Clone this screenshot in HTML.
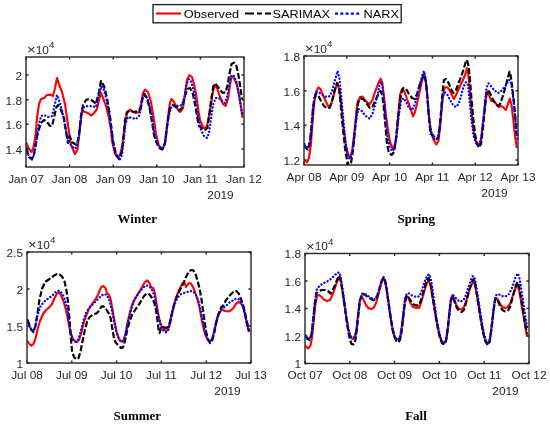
<!DOCTYPE html>
<html><head><meta charset="utf-8"><title>Observed vs SARIMAX vs NARX</title>
<style>html,body{margin:0;padding:0;background:#fff}svg{display:block}
text{font-family:"Liberation Sans",Arial,Helvetica,sans-serif;fill:#262626}
.t{font-family:"Liberation Serif","Times New Roman",serif;font-weight:bold;font-size:13px;fill:#000}
.r{fill:none;stroke:#f00;stroke-width:2.1;stroke-linejoin:round;stroke-linecap:round}
.k{fill:none;stroke:#000;stroke-width:2.2;stroke-dasharray:6 2.2;stroke-linejoin:round}
.b{fill:none;stroke:#00f;stroke-width:2.3;stroke-dasharray:0.1 3.4;stroke-linecap:round;stroke-linejoin:round}
.a{fill:none;stroke:#262626;stroke-width:1.4}
</style></head><body>
<svg width="550" height="425" viewBox="0 0 550 425">
<rect width="550" height="425" fill="#fff"/>
<clipPath id="c0"><rect x="26" y="57" width="218" height="110"/></clipPath>
<g clip-path="url(#c0)">
<path class="r" d="M26.4,143.0 L29.0,149.0 L31.6,152.0 L33.6,147.0 L35.6,135.0 L37.0,118.0 L39.0,104.0 L41.0,99.0 L44.0,98.0 L47.0,95.0 L50.0,94.6 L53.0,96.0 L55.0,88.0 L57.0,78.0 L59.6,86.0 L62.0,92.0 L65.0,104.0 L67.0,118.0 L69.0,132.0 L71.0,145.0 L75.0,154.0 L77.6,149.0 L80.0,128.0 L82.0,111.0 L85.0,112.0 L88.0,113.0 L91.4,115.6 L94.0,113.0 L97.0,109.0 L99.0,100.0 L101.0,93.0 L103.0,98.0 L106.0,106.0 L109.0,118.0 L111.0,130.0 L112.0,141.0 L115.0,154.0 L118.0,157.0 L120.0,155.0 L122.4,145.0 L123.5,135.0 L125.0,124.0 L127.0,113.0 L130.0,109.6 L133.0,112.0 L136.0,113.0 L139.0,112.0 L141.0,104.0 L143.0,93.0 L145.0,89.6 L148.0,92.0 L151.0,102.0 L154.0,120.0 L156.0,134.0 L159.0,146.0 L162.0,149.4 L164.6,145.0 L166.6,131.0 L168.6,112.0 L170.0,103.0 L171.4,99.0 L174.0,102.0 L177.0,108.0 L180.0,112.0 L183.0,108.0 L185.0,94.0 L187.0,80.0 L189.4,75.0 L192.0,77.0 L194.0,84.0 L196.0,94.0 L198.0,108.0 L200.0,120.0 L203.0,127.0 L205.4,129.0 L207.4,124.0 L210.0,111.0 L212.4,95.0 L214.4,85.0 L217.0,88.0 L220.0,97.0 L223.0,104.0 L225.6,106.0 L228.0,99.0 L230.0,85.0 L231.6,76.0 L234.0,78.0 L237.0,85.0 L239.0,95.0 L241.0,107.0 L242.4,117.0"/>
<path class="k" d="M26.4,149.0 L29.0,157.0 L32.0,159.0 L34.0,154.0 L36.0,143.0 L38.0,132.0 L41.0,123.0 L44.0,120.0 L47.0,122.0 L50.0,126.0 L52.0,126.0 L54.0,118.0 L56.0,108.0 L58.0,105.0 L61.0,110.0 L64.0,118.0 L66.0,131.0 L68.0,143.0 L69.6,136.0 L72.0,142.0 L75.0,144.0 L77.0,145.0 L79.0,135.0 L81.0,116.0 L83.0,105.0 L86.0,100.0 L89.0,99.0 L93.0,101.0 L96.0,104.0 L99.0,92.0 L101.0,81.0 L104.0,86.0 L107.0,98.0 L110.0,116.0 L113.0,141.0 L116.0,155.0 L119.0,159.0 L121.6,153.0 L123.4,140.0 L125.0,120.0 L127.0,112.0 L130.0,110.4 L134.0,112.0 L138.0,111.0 L140.6,109.0 L142.6,98.0 L144.6,94.0 L147.0,98.0 L150.0,110.0 L152.0,122.0 L154.0,135.0 L156.6,143.0 L159.4,148.0 L162.6,149.4 L165.0,143.0 L167.0,126.0 L169.0,113.0 L170.0,108.0 L173.0,105.0 L176.0,107.0 L179.0,110.4 L182.0,108.0 L185.0,96.0 L187.4,89.0 L190.0,88.0 L192.6,93.0 L195.0,104.0 L197.0,116.0 L199.0,126.0 L202.0,128.4 L205.0,130.0 L207.4,128.0 L209.4,114.0 L211.4,98.0 L213.4,86.0 L215.4,83.6 L218.0,87.0 L221.0,91.0 L223.0,93.0 L225.6,92.0 L227.6,85.0 L229.6,73.0 L231.6,64.0 L234.0,62.6 L236.4,66.0 L238.4,75.0 L240.0,85.0 L242.0,99.0"/>
<path class="b" d="M26.4,148.0 L29.0,157.0 L31.6,160.0 L34.0,155.0 L36.0,143.0 L38.0,128.0 L41.0,116.0 L44.0,115.0 L48.0,117.0 L52.0,116.0 L54.0,108.0 L57.0,95.0 L59.0,100.0 L62.0,110.0 L65.0,126.0 L68.0,140.0 L71.0,145.0 L74.0,148.6 L76.4,147.4 L79.0,135.0 L81.0,116.0 L84.0,107.0 L88.0,106.0 L92.0,106.4 L96.0,107.0 L99.0,94.0 L101.6,86.0 L104.0,90.0 L107.0,102.0 L110.0,118.0 L113.0,141.0 L116.0,154.0 L119.6,160.0 L122.0,155.0 L123.5,142.0 L125.4,124.0 L128.0,117.0 L132.0,118.0 L136.0,119.0 L139.0,116.0 L141.0,108.0 L143.0,97.0 L145.0,95.0 L148.0,100.0 L151.0,112.0 L153.0,125.0 L155.0,137.0 L158.0,145.0 L162.0,149.0 L165.0,143.0 L167.0,128.0 L168.0,120.0 L170.6,108.0 L174.0,105.6 L178.0,106.0 L182.0,105.0 L184.6,96.0 L186.6,84.0 L189.0,79.0 L191.4,82.0 L194.0,92.0 L196.0,104.0 L198.0,117.0 L201.0,130.0 L204.0,136.0 L207.0,138.0 L209.0,133.0 L211.0,119.0 L213.0,105.0 L215.6,98.0 L219.0,98.0 L222.0,101.0 L225.0,103.0 L227.6,95.0 L229.6,83.0 L231.6,75.0 L234.0,76.0 L236.4,82.0 L239.0,95.0 L241.0,107.0 L242.4,115.0"/>
</g>
<rect class="a" x="26" y="57" width="218" height="110"/>
<path class="a" d="M26.0,167v-2.5M26.0,57v2.5M69.6,167v-2.5M69.6,57v2.5M113.2,167v-2.5M113.2,57v2.5M156.8,167v-2.5M156.8,57v2.5M200.4,167v-2.5M200.4,57v2.5M244.0,167v-2.5M244.0,57v2.5M26,75h2.5M244,75h-2.5M26,99.7h2.5M244,99.7h-2.5M26,124.3h2.5M244,124.3h-2.5M26,149h2.5M244,149h-2.5"/>
<text transform="translate(26.0 183) scale(1.1 1)" font-size="10.8" text-anchor="middle">Jan 07</text>
<text transform="translate(69.6 183) scale(1.1 1)" font-size="10.8" text-anchor="middle">Jan 08</text>
<text transform="translate(113.2 183) scale(1.1 1)" font-size="10.8" text-anchor="middle">Jan 09</text>
<text transform="translate(156.8 183) scale(1.1 1)" font-size="10.8" text-anchor="middle">Jan 10</text>
<text transform="translate(200.4 183) scale(1.1 1)" font-size="10.8" text-anchor="middle">Jan 11</text>
<text transform="translate(244.0 183) scale(1.1 1)" font-size="10.8" text-anchor="middle">Jan 12</text>
<text transform="translate(233.7 198.7) scale(1.1 1)" font-size="10.8" text-anchor="end">2019</text>
<text transform="translate(22.1 79.8) scale(1.1 1)" font-size="10.8" text-anchor="end">2</text>
<text transform="translate(22.1 104.5) scale(1.1 1)" font-size="10.8" text-anchor="end">1.8</text>
<text transform="translate(22.1 129.1) scale(1.1 1)" font-size="10.8" text-anchor="end">1.6</text>
<text transform="translate(22.1 153.8) scale(1.1 1)" font-size="10.8" text-anchor="end">1.4</text>
<text transform="translate(27 53.5) scale(1.1 1)" font-size="10.8" text-anchor="start"><tspan font-size="13.5" dy="0.5">×</tspan><tspan dy="-0.5">10</tspan><tspan dy="-5.5" font-size="9">4</tspan></text>
<text class="t" x="137.3" y="223" text-anchor="middle">Winter</text>
<clipPath id="c1"><rect x="304" y="56" width="214" height="109"/></clipPath>
<g clip-path="url(#c1)">
<path class="r" d="M304.4,160.0 L307.0,162.4 L309.0,158.0 L311.0,144.0 L312.4,124.0 L314.4,101.0 L316.4,91.0 L318.4,87.4 L320.4,89.0 L323.0,95.0 L326.0,102.0 L329.0,107.4 L331.0,105.0 L333.0,98.0 L335.6,88.0 L337.6,83.0 L339.6,91.0 L341.6,107.0 L343.6,128.0 L345.6,144.0 L348.0,154.0 L350.0,157.0 L352.0,152.0 L354.0,136.0 L356.0,116.0 L357.6,102.0 L360.0,97.0 L362.4,96.6 L365.0,100.0 L367.6,103.0 L370.0,104.0 L372.4,100.0 L375.0,92.0 L378.0,84.0 L380.6,78.6 L382.4,83.0 L384.0,97.0 L386.0,116.0 L388.0,130.0 L390.0,142.0 L392.4,148.0 L394.4,146.0 L396.4,136.0 L398.2,115.0 L400.0,95.0 L402.0,89.0 L404.6,92.0 L407.0,99.0 L410.0,107.0 L413.0,116.4 L415.0,112.0 L417.4,102.0 L420.0,90.0 L422.6,78.0 L424.0,73.0 L425.6,80.0 L427.4,98.0 L429.0,118.0 L431.0,132.0 L433.6,140.0 L436.4,144.4 L438.4,141.0 L440.0,128.0 L441.6,110.0 L443.0,96.0 L444.4,88.0 L446.6,87.0 L449.0,89.0 L451.4,94.0 L454.0,99.0 L457.0,93.0 L460.0,86.0 L463.0,80.0 L465.4,74.0 L467.0,68.0 L468.2,74.0 L469.4,86.0 L471.0,104.0 L472.5,122.0 L474.0,134.0 L476.4,142.4 L479.0,145.0 L481.0,140.0 L483.0,122.0 L484.8,108.0 L486.4,94.0 L488.0,91.0 L489.7,97.0 L491.4,101.0 L493.8,101.0 L496.3,104.0 L498.8,107.0 L501.2,106.0 L503.7,107.7 L505.9,110.0 L507.8,104.4 L509.8,98.7 L511.5,105.0 L513.1,118.0 L515.0,136.0 L516.6,147.0"/>
<path class="k" d="M304.4,145.0 L306.0,148.0 L308.0,149.6 L310.0,142.0 L311.6,126.0 L313.2,106.0 L314.5,98.0 L316.0,94.0 L318.4,96.0 L321.0,101.0 L324.0,106.0 L327.0,108.0 L329.6,108.0 L332.0,101.0 L334.4,91.0 L337.0,83.0 L339.0,89.0 L340.6,103.0 L342.0,120.0 L343.5,133.0 L345.0,148.0 L347.0,160.0 L349.0,166.0 L351.0,163.0 L353.0,150.0 L355.0,130.0 L357.0,110.0 L358.4,102.0 L360.6,98.6 L363.6,99.4 L367.0,104.0 L370.0,108.0 L372.4,107.0 L375.0,101.0 L378.0,95.0 L380.4,91.0 L382.4,95.0 L384.0,110.0 L385.5,126.0 L387.0,144.0 L389.0,153.0 L391.6,155.0 L394.0,152.0 L396.0,140.0 L398.0,118.0 L399.5,106.0 L401.0,94.0 L403.4,88.0 L406.0,89.0 L409.0,94.0 L412.0,98.0 L414.6,99.0 L417.0,94.0 L419.4,86.0 L422.0,79.0 L424.0,75.0 L426.0,82.0 L427.6,100.0 L429.2,120.0 L430.6,134.0 L433.0,135.0 L435.6,139.0 L438.0,138.0 L439.6,128.0 L441.2,110.0 L442.5,92.0 L444.0,80.0 L446.0,79.0 L448.6,83.0 L451.0,89.0 L453.4,93.0 L456.0,90.0 L458.6,83.0 L461.0,77.0 L463.4,70.0 L465.4,63.0 L467.0,60.0 L468.6,66.0 L470.0,80.0 L471.6,100.0 L473.2,118.0 L475.0,134.0 L477.0,144.0 L479.0,147.6 L481.0,144.0 L483.0,128.0 L485.0,106.0 L486.7,92.0 L488.4,90.4 L490.5,94.0 L493.0,99.5 L495.5,103.6 L498.0,106.0 L499.9,104.4 L502.0,98.7 L504.5,90.4 L506.5,83.0 L508.2,76.4 L509.5,71.5 L510.8,76.4 L512.1,86.3 L513.6,99.5 L515.2,116.0 L516.5,134.0"/>
<path class="b" d="M304.4,144.0 L306.0,147.0 L308.0,148.0 L310.0,141.0 L311.6,124.0 L313.0,108.0 L314.5,98.0 L316.0,92.0 L318.4,92.0 L321.0,94.0 L324.0,96.0 L327.0,97.0 L330.0,96.0 L332.4,90.0 L335.0,80.0 L337.6,71.0 L339.6,79.0 L341.2,95.0 L342.6,112.0 L344.4,130.0 L346.4,148.0 L348.0,157.0 L350.0,159.0 L352.4,152.0 L354.4,134.0 L356.4,118.0 L358.4,109.0 L361.0,110.0 L364.0,114.0 L367.0,117.0 L369.6,118.6 L372.0,115.0 L374.4,107.0 L377.0,97.0 L380.0,83.0 L381.6,82.0 L383.2,92.0 L384.6,106.0 L385.8,122.0 L387.6,138.0 L390.0,148.0 L392.4,151.0 L394.8,148.0 L396.8,134.0 L398.8,116.0 L401.0,101.0 L403.4,98.0 L406.0,102.0 L409.0,108.0 L412.0,110.0 L414.6,105.0 L417.0,96.0 L419.4,86.0 L422.0,76.0 L424.0,71.0 L425.6,78.0 L427.4,96.0 L429.0,116.0 L430.5,128.0 L432.0,135.0 L435.0,140.0 L437.6,139.0 L439.6,128.0 L441.2,112.0 L442.6,98.0 L444.6,92.0 L447.0,94.0 L450.0,100.0 L453.0,105.0 L456.0,107.0 L458.6,104.0 L461.0,96.0 L463.4,87.0 L466.0,82.0 L468.0,85.0 L469.4,98.0 L471.0,116.0 L472.5,128.0 L474.0,138.0 L476.4,144.0 L479.0,145.0 L481.0,139.0 L483.0,122.0 L485.0,103.0 L486.4,88.0 L488.4,83.3 L490.5,85.5 L493.0,88.8 L495.5,91.2 L498.0,93.0 L500.4,92.0 L502.9,88.8 L505.4,86.3 L507.5,82.2 L509.2,79.7 L510.8,82.2 L512.4,91.2 L514.1,106.0 L515.7,122.0 L517.6,142.0"/>
</g>
<rect class="a" x="304" y="56" width="214" height="109"/>
<path class="a" d="M304.0,165v-2.5M304.0,56v2.5M346.8,165v-2.5M346.8,56v2.5M389.6,165v-2.5M389.6,56v2.5M432.4,165v-2.5M432.4,56v2.5M475.2,165v-2.5M475.2,56v2.5M518.0,165v-2.5M518.0,56v2.5M304,56h2.5M518,56h-2.5M304,90.7h2.5M518,90.7h-2.5M304,125.3h2.5M518,125.3h-2.5M304,160h2.5M518,160h-2.5"/>
<text transform="translate(304.0 181) scale(1.1 1)" font-size="10.8" text-anchor="middle">Apr 08</text>
<text transform="translate(346.8 181) scale(1.1 1)" font-size="10.8" text-anchor="middle">Apr 09</text>
<text transform="translate(389.6 181) scale(1.1 1)" font-size="10.8" text-anchor="middle">Apr 10</text>
<text transform="translate(432.4 181) scale(1.1 1)" font-size="10.8" text-anchor="middle">Apr 11</text>
<text transform="translate(475.2 181) scale(1.1 1)" font-size="10.8" text-anchor="middle">Apr 12</text>
<text transform="translate(518.0 181) scale(1.1 1)" font-size="10.8" text-anchor="middle">Apr 13</text>
<text transform="translate(507.7 196.7) scale(1.1 1)" font-size="10.8" text-anchor="end">2019</text>
<text transform="translate(300.1 60.8) scale(1.1 1)" font-size="10.8" text-anchor="end">1.8</text>
<text transform="translate(300.1 95.5) scale(1.1 1)" font-size="10.8" text-anchor="end">1.6</text>
<text transform="translate(300.1 130.1) scale(1.1 1)" font-size="10.8" text-anchor="end">1.4</text>
<text transform="translate(300.1 164.8) scale(1.1 1)" font-size="10.8" text-anchor="end">1.2</text>
<text transform="translate(305 52.5) scale(1.1 1)" font-size="10.8" text-anchor="start"><tspan font-size="13.5" dy="0.5">×</tspan><tspan dy="-0.5">10</tspan><tspan dy="-5.5" font-size="9">4</tspan></text>
<text class="t" x="416.3" y="223" text-anchor="middle">Spring</text>
<clipPath id="c2"><rect x="27" y="252" width="224" height="111"/></clipPath>
<g clip-path="url(#c2)">
<path class="r" d="M27.4,341.0 L29.4,344.0 L31.4,345.6 L33.4,344.0 L35.4,339.0 L37.4,330.0 L40.0,321.0 L43.0,314.0 L46.0,310.0 L49.0,307.6 L52.0,304.0 L54.6,298.0 L57.0,293.6 L59.0,292.4 L61.0,295.0 L63.4,301.0 L66.0,310.0 L68.0,320.0 L70.0,330.0 L72.0,337.0 L74.6,341.0 L77.0,342.0 L79.0,340.0 L81.0,334.0 L83.4,324.0 L86.0,316.0 L89.0,309.0 L92.0,304.0 L95.0,300.0 L97.4,296.0 L99.4,291.0 L101.4,287.0 L103.4,286.0 L105.4,288.0 L107.0,293.0 L109.0,295.0 L110.6,299.0 L112.6,310.0 L114.6,322.0 L116.6,332.0 L119.0,339.0 L121.4,341.6 L123.4,341.0 L125.4,334.0 L127.4,323.0 L130.0,312.0 L133.0,303.0 L136.0,297.0 L139.0,292.0 L142.0,287.0 L145.0,282.0 L147.4,280.4 L149.4,283.0 L151.4,287.6 L153.4,288.0 L155.0,294.0 L156.6,304.0 L158.2,314.0 L160.0,322.0 L162.0,327.0 L164.4,330.0 L166.6,331.0 L168.6,328.0 L170.6,320.0 L172.6,310.0 L175.0,301.0 L177.4,294.0 L180.0,288.0 L182.6,283.0 L184.6,283.0 L186.0,287.0 L187.4,285.0 L189.0,283.0 L191.0,283.6 L193.0,287.0 L195.0,292.0 L197.4,299.0 L199.4,307.0 L201.4,318.0 L203.4,328.0 L205.4,335.0 L207.4,339.0 L210.0,341.5 L212.0,339.0 L214.0,332.0 L216.0,322.0 L218.0,315.0 L220.6,311.0 L222.3,309.5 L225.1,311.0 L228.0,311.4 L230.8,310.5 L233.6,307.7 L236.0,303.9 L238.3,302.0 L240.6,303.0 L243.0,306.7 L244.9,313.3 L246.8,322.7 L248.7,331.2"/>
<path class="k" d="M27.4,320.0 L29.4,325.0 L31.4,330.0 L33.4,332.0 L35.4,326.0 L37.4,314.0 L39.4,300.0 L42.0,289.0 L45.0,282.0 L48.0,280.0 L51.0,278.0 L54.0,275.6 L57.0,274.0 L59.4,274.4 L62.0,276.4 L64.4,281.0 L66.4,290.0 L68.0,302.0 L69.4,318.0 L70.6,335.0 L72.0,351.0 L74.0,357.0 L76.6,359.4 L78.6,358.0 L80.6,351.0 L82.6,341.0 L84.6,331.0 L87.0,322.0 L89.0,318.0 L91.0,316.0 L94.0,314.4 L97.0,313.0 L99.4,310.0 L101.6,306.4 L103.6,306.4 L106.0,309.0 L108.6,313.0 L110.6,318.0 L112.2,328.0 L113.8,337.0 L115.4,342.0 L118.0,345.0 L121.0,348.0 L123.0,347.4 L125.0,341.0 L127.0,331.0 L129.4,322.0 L132.0,315.0 L135.0,310.0 L138.0,306.0 L141.0,301.0 L144.0,296.0 L146.6,293.6 L149.0,294.0 L151.4,297.0 L154.0,302.0 L156.0,310.0 L157.4,320.0 L158.6,330.0 L159.6,333.0 L161.0,328.0 L163.4,327.0 L166.0,328.0 L168.0,327.0 L170.0,322.0 L172.0,313.0 L174.6,303.0 L177.0,296.0 L180.0,290.0 L183.0,284.0 L186.0,277.0 L188.6,272.0 L191.0,270.0 L193.4,270.4 L195.4,274.0 L197.4,280.0 L199.4,288.0 L201.4,299.0 L203.0,310.0 L204.6,322.0 L206.2,332.0 L208.0,340.0 L210.0,343.0 L212.0,341.0 L214.0,334.0 L216.0,324.0 L218.6,314.0 L221.4,307.0 L223.2,305.8 L226.1,300.1 L228.9,296.4 L231.7,293.5 L234.2,291.1 L236.4,291.1 L238.7,293.5 L241.1,299.2 L243.6,306.7 L245.5,315.2 L247.4,323.7 L249.2,331.2"/>
<path class="b" d="M27.4,320.0 L29.4,326.0 L31.4,330.0 L33.4,331.0 L35.4,326.0 L37.4,316.0 L40.0,307.0 L43.0,303.0 L46.0,300.0 L49.0,298.0 L52.0,296.0 L54.6,293.0 L57.0,291.0 L60.0,291.0 L62.6,294.0 L65.0,300.0 L67.0,308.0 L69.0,320.0 L70.6,332.0 L73.0,340.0 L76.0,342.0 L78.6,339.0 L80.6,332.0 L83.0,322.0 L86.0,313.0 L89.0,308.0 L92.0,305.0 L95.0,302.0 L98.0,299.0 L101.0,296.0 L104.0,294.0 L106.6,295.0 L109.0,299.0 L111.0,306.0 L113.0,316.0 L115.0,326.0 L117.0,334.0 L119.4,340.0 L122.0,342.0 L124.4,339.0 L126.4,330.0 L128.6,320.0 L131.0,310.0 L133.0,302.0 L136.0,297.0 L139.0,293.0 L142.0,289.0 L145.0,286.0 L147.4,285.6 L150.0,287.0 L152.6,291.0 L154.6,297.0 L156.6,306.0 L158.6,317.0 L160.6,325.0 L163.0,330.0 L165.6,332.4 L168.0,331.0 L170.0,324.0 L172.0,314.0 L174.6,304.0 L177.4,298.0 L180.6,294.4 L184.0,293.0 L187.4,292.0 L190.6,291.0 L193.4,291.6 L196.0,295.0 L198.4,301.0 L200.6,310.0 L202.6,320.0 L204.6,330.0 L206.6,337.0 L209.0,341.0 L211.4,341.0 L213.4,335.0 L215.4,326.0 L218.0,316.0 L221.0,309.0 L223.2,308.0 L226.1,305.8 L228.9,303.0 L231.7,301.1 L234.5,299.2 L237.4,298.6 L240.2,300.1 L242.5,304.8 L244.3,312.4 L246.2,320.8 L248.3,330.3"/>
</g>
<rect class="a" x="27" y="252" width="224" height="111"/>
<path class="a" d="M27.0,363v-2.5M27.0,252v2.5M71.8,363v-2.5M71.8,252v2.5M116.6,363v-2.5M116.6,252v2.5M161.4,363v-2.5M161.4,252v2.5M206.2,363v-2.5M206.2,252v2.5M251.0,363v-2.5M251.0,252v2.5M27,252h2.5M251,252h-2.5M27,289h2.5M251,289h-2.5M27,326h2.5M251,326h-2.5M27,363h2.5M251,363h-2.5"/>
<text transform="translate(27.0 379) scale(1.1 1)" font-size="10.8" text-anchor="middle">Jul 08</text>
<text transform="translate(71.8 379) scale(1.1 1)" font-size="10.8" text-anchor="middle">Jul 09</text>
<text transform="translate(116.6 379) scale(1.1 1)" font-size="10.8" text-anchor="middle">Jul 10</text>
<text transform="translate(161.4 379) scale(1.1 1)" font-size="10.8" text-anchor="middle">Jul 11</text>
<text transform="translate(206.2 379) scale(1.1 1)" font-size="10.8" text-anchor="middle">Jul 12</text>
<text transform="translate(251.0 379) scale(1.1 1)" font-size="10.8" text-anchor="middle">Jul 13</text>
<text transform="translate(240.7 394.7) scale(1.1 1)" font-size="10.8" text-anchor="end">2019</text>
<text transform="translate(23.1 256.8) scale(1.1 1)" font-size="10.8" text-anchor="end">2.5</text>
<text transform="translate(23.1 293.8) scale(1.1 1)" font-size="10.8" text-anchor="end">2</text>
<text transform="translate(23.1 330.8) scale(1.1 1)" font-size="10.8" text-anchor="end">1.5</text>
<text transform="translate(23.1 367.8) scale(1.1 1)" font-size="10.8" text-anchor="end">1</text>
<text transform="translate(28 248.5) scale(1.1 1)" font-size="10.8" text-anchor="start"><tspan font-size="13.5" dy="0.5">×</tspan><tspan dy="-0.5">10</tspan><tspan dy="-5.5" font-size="9">4</tspan></text>
<text class="t" x="137.3" y="419.6" text-anchor="middle">Summer</text>
<clipPath id="c3"><rect x="305" y="253.5" width="224" height="110.0"/></clipPath>
<g clip-path="url(#c3)">
<path class="r" d="M305.4,346.0 L308.0,348.4 L310.4,346.0 L312.0,338.0 L313.6,322.0 L315.2,306.0 L317.0,296.0 L319.0,295.0 L321.6,297.0 L324.0,299.6 L327.0,301.0 L330.0,300.0 L332.4,295.0 L335.0,288.0 L337.4,281.0 L339.4,277.0 L341.0,282.0 L342.6,292.0 L344.4,304.0 L346.4,318.0 L348.4,330.0 L350.4,337.0 L352.4,339.0 L354.4,338.0 L356.4,330.0 L358.0,316.0 L359.6,302.0 L361.6,296.0 L363.6,300.0 L366.0,305.0 L368.4,308.0 L371.0,309.0 L373.6,308.0 L376.0,303.0 L378.0,296.0 L380.0,288.0 L382.0,281.0 L383.6,278.4 L385.2,282.0 L386.8,290.0 L388.4,302.0 L390.4,316.0 L392.4,328.0 L394.4,336.0 L396.4,339.0 L398.4,339.6 L400.4,336.0 L402.0,326.0 L403.6,312.0 L405.2,300.0 L406.6,296.0 L408.4,298.0 L410.4,303.0 L413.0,307.0 L416.0,307.6 L419.0,308.0 L421.0,303.0 L423.0,296.0 L425.0,289.0 L427.0,283.0 L428.6,280.0 L430.4,285.0 L432.0,294.0 L434.0,306.0 L436.0,318.0 L438.0,329.0 L440.0,337.0 L442.0,342.0 L444.0,343.6 L446.0,340.0 L447.6,330.0 L449.2,314.0 L450.8,300.0 L452.4,295.0 L454.4,300.0 L456.4,305.0 L459.0,309.0 L461.6,309.6 L464.0,307.0 L466.4,300.0 L468.4,293.0 L470.4,287.0 L472.4,283.0 L474.0,282.0 L475.6,288.0 L477.6,300.0 L479.6,312.0 L481.6,324.0 L483.6,334.0 L485.6,341.0 L487.6,343.6 L489.6,341.0 L491.2,330.0 L492.8,316.0 L494.4,304.0 L495.6,298.0 L497.6,299.0 L500.0,304.0 L502.4,307.0 L505.0,308.0 L507.6,307.0 L510.0,304.0 L512.0,298.0 L514.0,292.0 L516.0,287.0 L517.6,285.0 L519.2,291.0 L521.0,301.0 L523.0,313.0 L525.0,325.0 L527.0,336.0"/>
<path class="k" d="M305.4,336.0 L307.6,339.0 L309.6,340.0 L311.6,334.0 L313.2,320.0 L314.8,304.0 L316.6,293.0 L319.0,291.0 L322.0,290.0 L325.0,290.0 L328.0,291.0 L330.4,293.6 L332.4,291.0 L335.0,285.0 L337.4,279.0 L339.2,275.6 L341.0,281.0 L342.6,292.0 L344.4,304.0 L346.4,319.0 L348.4,332.0 L350.0,340.0 L351.6,344.0 L353.6,344.4 L355.2,341.0 L356.8,330.0 L358.4,314.0 L360.0,300.0 L362.0,294.0 L364.4,294.4 L367.0,296.4 L370.0,298.4 L373.0,300.0 L375.6,300.0 L377.6,295.0 L379.6,288.0 L381.6,281.0 L383.6,277.6 L385.2,281.0 L386.8,290.0 L388.4,302.0 L390.4,316.0 L392.4,329.0 L394.4,337.0 L396.4,341.0 L398.4,342.4 L400.0,340.0 L401.6,332.0 L403.2,318.0 L404.8,304.0 L406.4,296.0 L408.4,297.0 L411.0,301.0 L413.6,304.4 L416.4,305.6 L419.0,305.0 L421.0,300.0 L423.0,293.0 L425.0,286.0 L427.0,280.0 L428.6,278.0 L430.4,283.0 L432.0,293.0 L434.0,305.0 L436.0,318.0 L438.0,329.0 L440.0,338.0 L442.0,343.0 L444.0,344.4 L446.0,341.0 L447.6,330.0 L449.2,315.0 L450.8,301.0 L452.4,296.0 L454.4,301.0 L456.4,307.0 L459.0,311.0 L461.6,312.0 L464.0,310.0 L466.0,303.0 L468.0,295.0 L470.0,288.0 L472.0,282.0 L473.6,279.0 L475.2,284.0 L477.2,296.0 L479.2,309.0 L481.2,322.0 L483.2,333.0 L485.2,341.0 L487.6,345.0 L489.6,342.0 L491.2,331.0 L492.8,317.0 L494.4,304.0 L495.6,298.0 L497.6,300.0 L500.0,306.0 L502.4,310.0 L505.0,311.4 L507.6,311.0 L510.0,307.0 L512.0,300.0 L514.0,292.0 L516.0,285.0 L517.6,282.0 L519.2,287.0 L521.0,298.0 L523.0,310.0 L525.0,323.0 L527.0,334.0"/>
<path class="b" d="M305.4,335.0 L307.6,338.0 L309.6,339.0 L311.6,333.0 L313.2,318.0 L314.8,302.0 L316.6,290.0 L319.0,286.4 L322.0,284.0 L325.0,282.4 L328.0,281.0 L331.0,279.0 L334.0,276.0 L337.0,273.0 L339.4,272.4 L341.0,278.0 L342.6,289.0 L344.4,302.0 L346.4,317.0 L348.4,329.0 L350.4,336.0 L353.0,338.0 L355.0,337.0 L356.6,329.0 L358.2,314.0 L359.8,300.0 L362.0,293.6 L365.0,294.0 L368.0,296.0 L371.0,298.0 L373.6,299.6 L376.0,298.0 L378.0,293.0 L380.0,286.0 L382.0,279.6 L383.6,277.0 L385.2,281.0 L386.8,290.0 L388.4,302.0 L390.4,316.0 L392.4,328.0 L394.4,336.0 L396.4,339.0 L398.4,340.0 L400.4,336.0 L402.0,325.0 L403.6,310.0 L405.2,298.0 L406.6,294.0 L408.4,293.0 L411.0,295.0 L414.0,296.4 L417.0,297.0 L419.6,296.0 L421.6,291.0 L423.6,285.0 L425.6,279.0 L427.6,275.0 L429.6,274.4 L431.2,281.0 L432.8,291.0 L434.4,303.0 L436.4,317.0 L438.4,328.0 L440.4,337.0 L442.4,342.0 L444.4,343.0 L446.4,339.0 L448.0,328.0 L449.6,312.0 L451.2,299.0 L452.8,295.0 L455.0,297.0 L457.6,300.0 L460.0,301.6 L462.4,301.0 L464.8,298.0 L466.8,292.0 L468.8,286.0 L470.8,280.0 L472.8,276.0 L474.4,277.0 L476.0,285.0 L478.0,297.0 L480.0,310.0 L482.0,323.0 L484.0,334.0 L486.0,341.0 L488.0,343.0 L490.0,339.0 L491.6,328.0 L493.2,313.0 L494.8,300.0 L496.4,295.0 L498.4,294.0 L501.0,295.6 L504.0,296.4 L507.0,296.0 L509.0,294.0 L511.6,289.0 L513.6,283.0 L515.6,277.0 L517.6,273.4 L519.2,277.0 L521.0,287.0 L522.6,298.0 L524.4,310.0 L526.4,323.0 L527.6,329.0"/>
</g>
<rect class="a" x="305" y="253.5" width="224" height="110.0"/>
<path class="a" d="M305.0,363.5v-2.5M305.0,253.5v2.5M349.8,363.5v-2.5M349.8,253.5v2.5M394.6,363.5v-2.5M394.6,253.5v2.5M439.4,363.5v-2.5M439.4,253.5v2.5M484.2,363.5v-2.5M484.2,253.5v2.5M529.0,363.5v-2.5M529.0,253.5v2.5M305,253.5h2.5M529,253.5h-2.5M305,281h2.5M529,281h-2.5M305,308.5h2.5M529,308.5h-2.5M305,336h2.5M529,336h-2.5M305,363.5h2.5M529,363.5h-2.5"/>
<text transform="translate(305.0 379) scale(1.1 1)" font-size="10.8" text-anchor="middle">Oct 07</text>
<text transform="translate(349.8 379) scale(1.1 1)" font-size="10.8" text-anchor="middle">Oct 08</text>
<text transform="translate(394.6 379) scale(1.1 1)" font-size="10.8" text-anchor="middle">Oct 09</text>
<text transform="translate(439.4 379) scale(1.1 1)" font-size="10.8" text-anchor="middle">Oct 10</text>
<text transform="translate(484.2 379) scale(1.1 1)" font-size="10.8" text-anchor="middle">Oct 11</text>
<text transform="translate(529.0 379) scale(1.1 1)" font-size="10.8" text-anchor="middle">Oct 12</text>
<text transform="translate(518.7 394.7) scale(1.1 1)" font-size="10.8" text-anchor="end">2019</text>
<text transform="translate(301.1 258.3) scale(1.1 1)" font-size="10.8" text-anchor="end">1.8</text>
<text transform="translate(301.1 285.8) scale(1.1 1)" font-size="10.8" text-anchor="end">1.6</text>
<text transform="translate(301.1 313.3) scale(1.1 1)" font-size="10.8" text-anchor="end">1.4</text>
<text transform="translate(301.1 340.8) scale(1.1 1)" font-size="10.8" text-anchor="end">1.2</text>
<text transform="translate(301.1 368.3) scale(1.1 1)" font-size="10.8" text-anchor="end">1</text>
<text transform="translate(306 250) scale(1.1 1)" font-size="10.8" text-anchor="start"><tspan font-size="13.5" dy="0.5">×</tspan><tspan dy="-0.5">10</tspan><tspan dy="-5.5" font-size="9">4</tspan></text>
<text class="t" x="416" y="419.6" text-anchor="middle">Fall</text>
<rect x="153" y="4.6" width="248.2" height="18.2" fill="#fff" stroke="#1a1a1a" stroke-width="1.3"/>
<path class="r" d="M156,13.5H181" style="stroke-linecap:butt"/>
<text transform="translate(183.8 17.8) scale(1.1 1)" font-size="11.6" text-anchor="start" style="fill:#000">Observed</text>
<path class="k" d="M245,13.5H271" style="stroke-dasharray:9 3 5 3 6 3"/>
<text transform="translate(272.5 17.8) scale(1.1 1)" font-size="11.6" text-anchor="start" style="fill:#000">SARIMAX</text>
<path d="M335,13.6H359.5" style="fill:none;stroke:#00f;stroke-width:2.2;stroke-dasharray:3 2.3"/>
<text transform="translate(363.6 17.8) scale(1.1 1)" font-size="11.6" text-anchor="start" style="fill:#000">NARX</text>
</svg>
</body></html>
